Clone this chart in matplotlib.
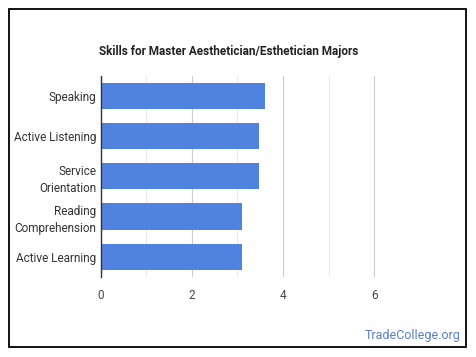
import matplotlib
matplotlib.use("Agg")
import matplotlib.pyplot as plt
from matplotlib.patches import Rectangle

plt.rcParams['font.family'] = ['Roboto', 'DejaVu Sans']

skills = ["Speaking", "Active Listening", "Service\nOrientation",
          "Reading\nComprehension", "Active Learning"]
scores = [3.61, 3.48, 3.48, 3.11, 3.11]
ticks = [0, 2, 4, 6]

fig = plt.figure(figsize=(4.76, 3.57), dpi=100)
ax = fig.add_axes([100.5 / 476, 1 - 276.7 / 357, 7 * 45.6 / 476, 200.7 / 357])

ax.barh(range(len(skills)), scores, height=0.65, color="#5082e0", zorder=3)
ax.set_ylim(len(skills) - 0.5, -0.5)
ax.set_xlim(0, 7)

ax.set_yticks(range(len(skills)))
ax.set_yticklabels(skills, fontsize=8.5, color="#333333", linespacing=1.4)
ax.set_xticks(ticks)
ax.set_xticklabels([str(t) for t in ticks], fontsize=8.5, color="#444444")
ax.set_xticks([1, 3, 5], minor=True)
ax.tick_params(axis='both', which='both', length=0, pad=3)
ax.tick_params(axis='x', pad=9)

ax.grid(axis='x', which='major', color="#cccccc", linewidth=0.8, zorder=0)
ax.grid(axis='x', which='minor', color="#ebebeb", linewidth=0.8, zorder=0)
for side in ["top", "right", "bottom"]:
    ax.spines[side].set_visible(False)
ax.spines["left"].set_color("#333333")
ax.spines["left"].set_linewidth(1)
ax.spines["left"].set_zorder(4)

fig.text(229 / 476, 1 - 51 / 357, "Skills for Master Aesthetician/Esthetician Majors",
         fontsize=8.5, fontweight="bold", color="#222222", ha="center", va="center")
fig.text(461 / 476, 1 - 335 / 357, "TradeCollege.org", fontsize=9,
         color="#5b80c8", ha="right", va="center")

fig.patches.append(Rectangle((8.5 / 476, 1 - 346.5 / 357), 457.5 / 476, 338 / 357,
                             transform=fig.transFigure, fill=False,
                             edgecolor="black", linewidth=1.3))

fig.savefig("out.png", dpi=100)
